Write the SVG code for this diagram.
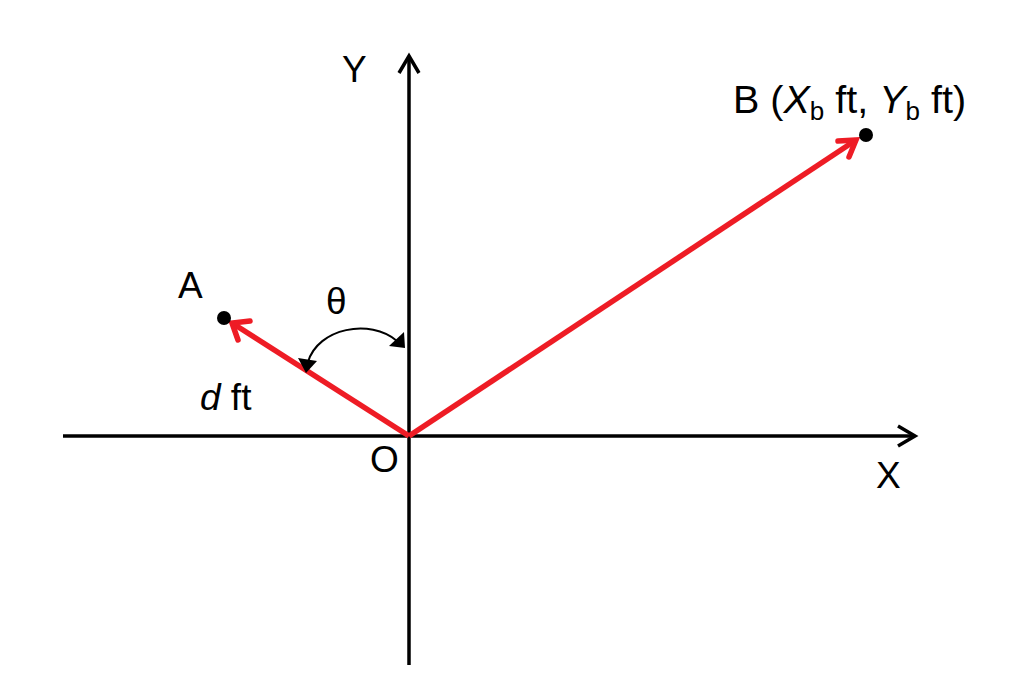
<svg xmlns="http://www.w3.org/2000/svg" width="1024" height="687" viewBox="0 0 1024 687">
<style>
.axis{stroke:#000;stroke-width:3.5;fill:none}
.vec{stroke:#ee1c25;stroke-width:5.5;fill:none}
.head{stroke:#ee1c25;stroke-width:5.5;fill:none;stroke-linecap:round;stroke-linejoin:miter}
.ahead{stroke:#000;stroke-width:3.5;fill:none}
text{font-family:"Liberation Sans",Arial,sans-serif;font-size:37px;fill:#000}
.sub{font-size:26px}
.it{font-style:italic}
</style>
<rect width="1024" height="687" fill="#fff"/>
<g id="connectors">
<line class="axis" x1="63" y1="436" x2="915" y2="436"/>
<polyline class="ahead" points="898,426 915,436 898,446"/>
<line class="axis" x1="409" y1="665" x2="409" y2="56"/>
<polyline class="ahead" points="399,73 409,56 419,73"/>
<line class="vec" x1="409" y1="436" x2="232" y2="323"/>
<polyline class="head" points="250,321 232,323 238,340"/>
<line class="vec" x1="409" y1="436" x2="856" y2="140"/>
<polyline class="head" points="838,141 856,140 849,157"/>
<path d="M 308 362 C 318 328, 370 318, 397 341" stroke="#000" stroke-width="2" fill="none"/>
<polygon points="298,358 317,361 306,373" fill="#000"/>
<polygon points="389,346 404,332 405,348" fill="#000"/>
</g>
<g id="nodeA"><circle cx="224" cy="318" r="7" fill="#000"/><text x="178" y="298">A</text></g>
<g id="nodeB"><circle cx="866" cy="135" r="7" fill="#000"/>
<text x="733" y="113" style="font-size:39.5px">B (<tspan class="it">X</tspan><tspan class="sub" dy="7">b</tspan><tspan dy="-7"> ft, </tspan><tspan class="it">Y</tspan><tspan class="sub" dy="7">b</tspan><tspan dy="-7"> ft)</tspan></text></g>
<g id="nodeO"><text x="370" y="472">O</text></g>
<g id="labelY"><text x="342" y="82">Y</text></g>
<g id="labelX"><text x="876" y="488">X</text></g>
<g id="theta"><text x="326" y="314">θ</text></g>
<g id="dft"><text x="200" y="410"><tspan class="it">d</tspan> ft</text></g>
</svg>
